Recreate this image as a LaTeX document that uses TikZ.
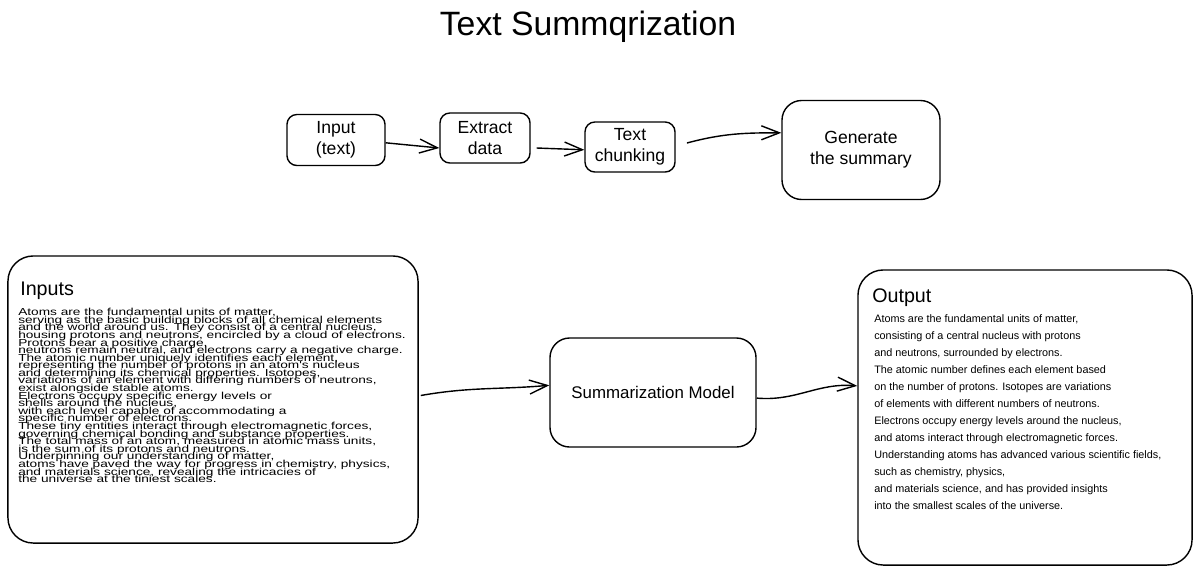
\documentclass[tikz,border=0pt]{standalone}
\usepackage{fontspec}
\setmainfont{Liberation Sans}
\newfontfamily\widesans[FakeStretch=1.35]{Liberation Sans}
\usetikzlibrary{arrows.meta,positioning}
\newcommand{\tightlines}{\lineskiplimit=-20pt\relax}

\begin{document}
\begin{tikzpicture}[
    x=0.025cm, y=-0.025cm,
    flowbox/.style={rectangle, draw, line width=1pt, rounded corners=7pt, align=center, inner sep=0pt, font=\fontsize{12.5}{15}\selectfont},
    panel/.style={rectangle, draw, line width=1pt, rounded corners=18pt, inner sep=0pt},
    heading/.style={anchor=west, inner sep=0pt, font=\fontsize{14}{16}\selectfont},
    bodytext/.style={anchor=north west, align=left, inner sep=0pt},
    arrow/.style={line width=1pt, -{Straight Barb[length=0.45cm,width=0.35cm]}}
]
    \useasboundingbox (0,0) rectangle (1200,574);

    \node (title) at (588,27) {\fontsize{24}{28}\selectfont Text Summqrization};

    % top row
    \node [flowbox, minimum width=2.45cm, minimum height=1.275cm] (inp) at (336,140) {Input\\(text)};
    \node [flowbox, minimum width=2.25cm, minimum height=1.25cm] (extr) at (485,138) {Extract\\data};
    \node [flowbox, minimum width=2.25cm, minimum height=1.25cm] (chunk) at (630,147) {Text\\chunking};
    \node [flowbox, rounded corners=14pt, minimum width=3.95cm, minimum height=2.475cm] (gen) at (861,150) {Generate\\the summary};

    % bottom row
    \node [panel, minimum width=10.25cm, minimum height=7.175cm] (inbox) at (213,399.5) {};
    \node [heading] (inhead) at (20,291) {Inputs};
    \node [bodytext, font={\widesans\fontsize{7.2}{5.4}\selectfont\tightlines}] (intext) at (18,308) {Atoms are the fundamental units of matter,\\
serving as the basic building blocks of all chemical elements\\
and the world around us. They consist of a central nucleus,\\
housing protons and neutrons, encircled by a cloud of electrons.\\
Protons bear a positive charge,\\
neutrons remain neutral, and electrons carry a negative charge.\\
The atomic number uniquely identifies each element,\\
representing the number of protons in an atom's nucleus\\
and determining its chemical properties. Isotopes,\\
variations of an element with differing numbers of neutrons,\\
exist alongside stable atoms.\\
Electrons occupy specific energy levels or\\
shells around the nucleus,\\
with each level capable of accommodating a\\
specific number of electrons.\\
These tiny entities interact through electromagnetic forces,\\
governing chemical bonding and substance properties.\\
The total mass of an atom, measured in atomic mass units,\\
is the sum of its protons and neutrons.\\
Underpinning our understanding of matter,\\
atoms have paved the way for progress in chemistry, physics,\\
and materials science, revealing the intricacies of\\
the universe at the tiniest scales.};

    \node [flowbox, rounded corners=14pt, minimum width=5.15cm, minimum height=2.725cm, font=\fontsize{12}{14}\selectfont] (summ) at (653,392.5) {Summarization Model};

    \node [panel, minimum width=8.35cm, minimum height=7.375cm] (outbox) at (1025,417.5) {};
    \node [heading] (outhead) at (872,298) {Output};
    \node [bodytext, font=\fontsize{7.7}{12.1}\selectfont] (outtext) at (874,314) {Atoms are the fundamental units of matter,\\
consisting of a central nucleus with protons\\
and neutrons, surrounded by electrons.\\
The atomic number defines each element based\\
on the number of protons. Isotopes are variations\\
of elements with different numbers of neutrons.\\
Electrons occupy energy levels around the nucleus,\\
and atoms interact through electromagnetic forces.\\
Understanding atoms has advanced various scientific fields,\\
such as chemistry, physics,\\
and materials science, and has provided insights\\
into the smallest scales of the universe.};

    \draw [arrow] ([yshift=-0.07cm]inp.east) -- ([yshift=-0.25cm]extr.west);
    \draw [arrow] ([xshift=0.15cm,yshift=-0.25cm]extr.east) -- ([yshift=-0.07cm]chunk.west);
    \draw [arrow] ([xshift=0.28cm,yshift=0.1cm]chunk.east) to[out=15,in=180] ([yshift=0.43cm]gen.west);
    \draw [arrow] ([xshift=0.05cm,yshift=0.1cm]inbox.east) to[out=10,in=185] ([yshift=0.18cm]summ.west);
    \draw [arrow] ([yshift=-0.14cm]summ.east) to[out=-5,in=175] ([yshift=0.79cm]outbox.west);
\end{tikzpicture}
\end{document}
